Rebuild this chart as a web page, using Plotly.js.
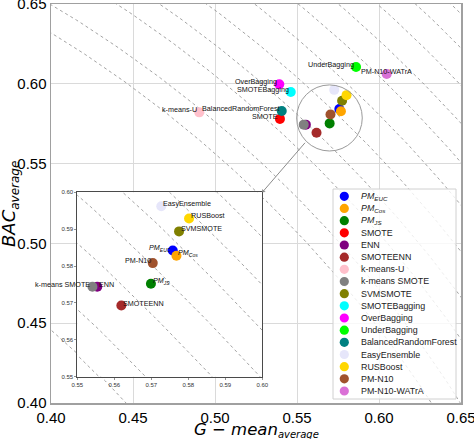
<!DOCTYPE html>
<html><head><meta charset="utf-8">
<script src="https://cdn.plot.ly/plotly-3.0.1.min.js"></script>
<style>html,body{margin:0;padding:0;background:#fff}#chart{width:474px;height:439px}</style>
</head><body><div id="chart"></div>
<script>
// ---------------- data ----------------
const methods = ['PM_EUC','PM_Cos','PM_JS','SMOTE','ENN','SMOTEENN','k-means-U','k-means SMOTE','SVMSMOTE',
  'SMOTEBagging','OverBagging','UnderBagging','BalancedRandomForest','EasyEnsemble','RUSBoost','PM-N10','PM-N10-WATrA'];
const displayNames = ['<i>PM</i><sub><i>EUC</i></sub>','<i>PM</i><sub><i>Cos</i></sub>','<i>PM</i><sub><i>JS</i></sub>',
  'SMOTE','ENN','SMOTEENN','k-means-U','k-means SMOTE','SVMSMOTE','SMOTEBagging','OverBagging','UnderBagging',
  'BalancedRandomForest','EasyEnsemble','RUSBoost','PM-N10','PM-N10-WATrA'];
const gmeanAvg = [0.5758,0.5768,0.5699,0.5396,0.5554,0.5619,0.4904,0.5541,0.5775,0.5462,0.5392,0.5860,0.5407,0.5727,0.5802,0.5704,0.6047];
const bacAvg   = [0.5842,0.5828,0.5752,0.5780,0.5744,0.5693,0.5821,0.5744,0.5894,0.5949,0.5997,0.6105,0.5830,0.5962,0.5929,0.5808,0.6061];
const colors = ['#0000ff','#ffa500','#008000','#ff0000','#800080','#a52a2a','#ffc0cb','#808080','#808000',
  '#00ffff','#ff00ff','#00ff00','#008080','#e6e6fa','#ffd700','#a0522d','#da70d6'];
const mainTicks = [0.40,0.45,0.50,0.55,0.60,0.65];
const insetTicks = [0.55,0.56,0.57,0.58,0.59,0.60];
// iso-curve radii (sqrt(G^2+BAC^2)) for dotted guide lines
const mainGuideR = [0.599,0.748,0.763,0.785,0.800,0.817,0.835,0.852,0.868,0.884,0.900,0.915];
const insetGuideR = [0.782,0.791,0.804,0.8135,0.8225,0.831,0.840,0.849];
// label placement
const mainLabelAnchor = {'UnderBagging':'right','PM-N10-WATrA':'center','OverBagging':'right','SMOTEBagging':'right',
  'k-means-U':'right','BalancedRandomForest':'right','SMOTE':'right'};
const insetLabelAnchor = {'EasyEnsemble':'left','RUSBoost':'left','SVMSMOTE':'left','PM_EUC':'right','PM_Cos':'left',
  'PM-N10':'right','PM_JS':'left','k-means SMOTE':'right','ENN':'left','SMOTEENN':'left'};

// ---------------- layout helpers ----------------
const W=474,H=439,M={l:51,r:13,t:4,b:36};
const PW=W-M.l-M.r, PH=H-M.t-M.b;
const px2x = p => (p-M.l)/PW;
const px2y = p => (H-M.b-p)/PH;
const FONT = 'Liberation Sans, Arial, sans-serif';

function arcs(radii){
  const xs=[],ys=[];
  radii.forEach(r=>{
    for(let i=0;i<=240;i++){const t=0.35+i*(0.9/240);xs.push(r*Math.cos(t));ys.push(r*Math.sin(t));}
    xs.push(null);ys.push(null);
  });
  return {xs,ys};
}
const mA=arcs(mainGuideR), iA=arcs(insetGuideR);
const guideLine={color:'#8c8c8c',width:0.8,dash:'dot'};

const traces=[
  {x:mA.xs,y:mA.ys,mode:'lines',line:guideLine,hoverinfo:'skip',xaxis:'x',yaxis:'y',connectgaps:false},
  {x:gmeanAvg,y:bacAvg,mode:'markers',marker:{size:10,color:colors,line:{width:0}},xaxis:'x',yaxis:'y'},
  {x:iA.xs,y:iA.ys,mode:'lines',line:guideLine,hoverinfo:'skip',xaxis:'x2',yaxis:'y2',connectgaps:false},
  {x:gmeanAvg,y:bacAvg,mode:'markers',marker:{size:10,color:colors,line:{width:0}},xaxis:'x2',yaxis:'y2'}
];

const annotations=[];
methods.forEach((m,i)=>{
  if(mainLabelAnchor[m]) annotations.push({x:gmeanAvg[i],y:bacAvg[i],xref:'x',yref:'y',text:displayNames[i],showarrow:false,
    xanchor:mainLabelAnchor[m],yanchor:'middle',yshift:2.5,font:{family:FONT,size:7.2,color:'#111'}});
  if(insetLabelAnchor[m]) annotations.push({x:gmeanAvg[i],y:bacAvg[i],xref:'x2',yref:'y2',text:displayNames[i],showarrow:false,
    xanchor:insetLabelAnchor[m],yanchor:'middle',yshift:2.5,font:{family:FONT,size:7.2,color:'#111'}});
});
// connector arrow from zoom circle to inset
annotations.push({x:1,y:1,xref:'x2 domain',yref:'y2 domain',text:'',showarrow:true,ax:44,ay:-51,
  arrowcolor:'#8c8c8c',arrowwidth:1,arrowhead:1,arrowsize:0.8,standoff:0});
// axis titles
annotations.push({x:px2x(256),xref:'paper',y:px2y(430),yref:'paper',
  text:'<i>G − mean</i><sub><span style="font-size:10px"><i>average</i></span></sub>',showarrow:false,
  xanchor:'center',yanchor:'middle',font:{family:'DejaVu Sans',size:16.5,color:'#000'}});
annotations.push({x:px2x(10),xref:'paper',y:px2y(204),yref:'paper',
  text:'<i>BAC</i><sub><span style="font-size:12px"><i>average</i></span></sub>',showarrow:false,
  textangle:-90,xanchor:'center',yanchor:'middle',font:{family:'DejaVu Sans',size:18,color:'#000'}});

const shapes=[
  {type:'circle',xref:'x',yref:'y',x0:0.5498,x1:0.5898,y0:0.5579,y1:0.5993,line:{color:'#9a9a9a',width:1},layer:'above'},
  {type:'rect',xref:'paper',yref:'paper',x0:px2x(333),x1:px2x(456),y0:px2y(399),y1:px2y(189),
    fillcolor:'rgba(255,255,255,0.8)',line:{color:'#d0d0d0',width:1},layer:'above'}
];
const legY0=196.3, legDY=12.17;
methods.forEach((m,i)=>{
  const py=legY0+i*legDY;
  shapes.push({type:'circle',xref:'paper',yref:'paper',xsizemode:'pixel',ysizemode:'pixel',
    xanchor:px2x(344.3),yanchor:px2y(py),x0:-4.6,x1:4.6,y0:-4.6,y1:4.6,fillcolor:colors[i],line:{width:0},layer:'above'});
  annotations.push({x:px2x(359),y:px2y(py),xref:'paper',yref:'paper',text:displayNames[i],showarrow:false,
    xanchor:'left',yanchor:'middle',font:{family:FONT,size:8.9,color:'#222'}});
});

const layout={
  width:W,height:H,margin:M,paper_bgcolor:'#fff',plot_bgcolor:'#fff',showlegend:false,
  xaxis:{domain:[0,1],range:[0.40,0.65],tickvals:mainTicks,tickformat:'.2f',showgrid:true,gridcolor:'#dadada',gridwidth:1,
    zeroline:false,showline:true,mirror:true,linecolor:'#a0a0a0',linewidth:1.5,ticks:'',ticklabeloverflow:'allow',
    tickfont:{family:FONT,size:15,color:'#000'},anchor:'y'},
  yaxis:{domain:[0,1],range:[0.40,0.65],tickvals:mainTicks,tickformat:'.2f',showgrid:true,gridcolor:'#dadada',gridwidth:1,
    zeroline:false,showline:true,mirror:true,linecolor:'#a0a0a0',linewidth:1.5,ticks:'',ticklabeloverflow:'allow',
    tickfont:{family:FONT,size:15,color:'#000'},anchor:'x'},
  xaxis2:{domain:[px2x(77.3),px2x(262.3)],range:[0.55,0.60],tickvals:insetTicks,tickformat:'.2f',showgrid:false,zeroline:false,
    showline:true,mirror:true,linecolor:'#4a4a4a',linewidth:1,ticks:'outside',ticklen:2,tickwidth:0.6,tickcolor:'#4a4a4a',
    tickfont:{family:FONT,size:6,color:'#333'},anchor:'y2'},
  yaxis2:{domain:[px2y(376.7),px2y(192.3)],range:[0.55,0.60],tickvals:insetTicks,tickformat:'.2f',showgrid:false,zeroline:false,
    showline:true,mirror:true,linecolor:'#4a4a4a',linewidth:1,ticks:'outside',ticklen:2,tickwidth:0.6,tickcolor:'#4a4a4a',
    tickfont:{family:FONT,size:6,color:'#333'},anchor:'x2'},
  annotations:annotations,shapes:shapes
};
Plotly.newPlot('chart',traces,layout,{displayModeBar:false,staticPlot:true});
</script></body></html>
